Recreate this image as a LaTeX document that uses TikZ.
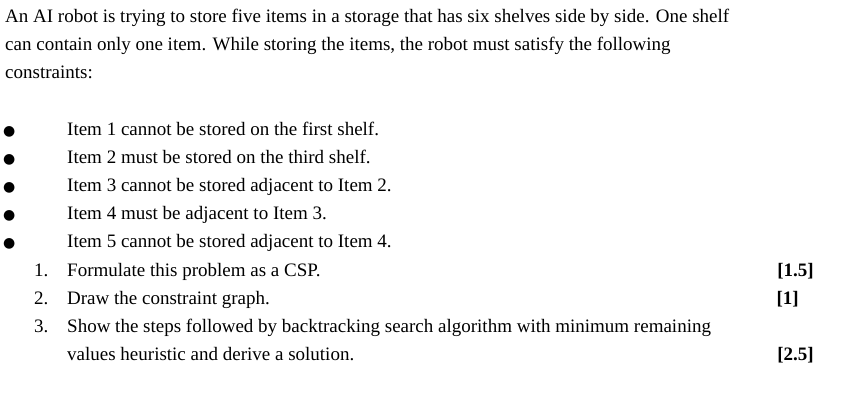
\documentclass[tikz,border=0pt]{standalone}
\usepackage{fontspec}
\setmainfont{Liberation Serif}
\newfontfamily\symfont{DejaVu Sans}
\begin{document}
\begin{tikzpicture}[x=1pt,y=-1pt,
  txt/.style={anchor=base west,inner sep=0pt,font=\fontsize{19}{28}\selectfont},
  jline/.style={txt,text width=#1,align=justify},
  bul/.style={anchor=base west,inner sep=0pt,font=\symfont\fontsize{14}{16}\selectfont},
  marktxt/.style={anchor=base east,inner sep=0pt,font=\bfseries\fontsize{19}{28}\selectfont}]
\useasboundingbox[fill=white] (0,0) rectangle (856,405);
\node[jline=833pt] (p1) at (5,22) {\parfillskip=0pt An AI robot is trying to store five items in a storage that has six shelves side by side. One shelf};
\node[jline=833pt] (p2) at (5,50) {\parfillskip=0pt can contain only one item. While storing the items, the robot must satisfy the following};
\node[txt] (p3) at (5,78) {constraints:};
\foreach \y/\t [count=\i] in {135/Item 1 cannot be stored on the first shelf.,
  163/Item 2 must be stored on the third shelf.,
  191/Item 3 cannot be stored adjacent to Item 2.,
  219/Item 4 must be adjacent to Item 3.,
  247/Item 5 cannot be stored adjacent to Item 4.}{
  \node[bul] (b\i) at (3,\y) {●};
  \node[txt] (t\i) at (67,\y) {\t};
}
\node[txt] (n1) at (34,276) {1.};
\node[txt] (q1) at (67,276) {Formulate this problem as a CSP.};
\node[marktxt] (m1) at (814,276) {[1.5]};
\node[txt] (n2) at (34,304) {2.};
\node[txt] (q2) at (67,304) {Draw the constraint graph.};
\node[marktxt] (m2) at (799,304) {[1]};
\node[txt] (n3) at (34,332) {3.};
\node[jline=771pt] (q3) at (67,332) {\parfillskip=0pt Show the steps followed by backtracking search algorithm with minimum remaining};
\node[txt] (q3b) at (67,360) {values heuristic and derive a solution.};
\node[marktxt] (m3) at (814,360) {[2.5]};
\end{tikzpicture}
\end{document}
